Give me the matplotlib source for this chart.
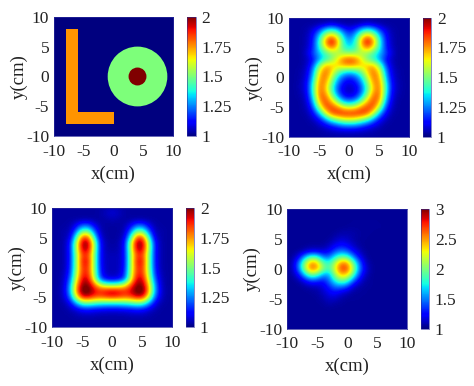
import matplotlib
matplotlib.use('Agg')
import matplotlib.pyplot as plt
import numpy as np
from matplotlib.patches import Circle, Polygon

plt.rcParams['font.family'] = ['Liberation Serif', 'DejaVu Serif']
plt.rcParams['axes.unicode_minus'] = False

W, H = 474, 386

# target panel: shapes and their relative permittivity
l_shape = [(-8, 8), (-6, 8), (-6, -6), (0, -6), (0, -8), (-8, -8)]
l_value = 1.75
outer_circle = (4, 0, 5)
outer_value = 1.5
inner_circle = (4, 0, 1.5)
inner_value = 2.0
background = 1.0

rings = [
    [1.03,1.03,1.03,1.03,1.03,1.03,1.03,1.03,1.03,1.03,1.03,1.03,1.03,1.03,1.03,1.03,1.03,1.03,1.03,1.03,1.03],
    [1.03,1.03,1.03,1.03,1.03,1.04,1.05,1.08,1.05,1.04,1.03,1.04,1.05,1.08,1.05,1.04,1.03,1.03,1.03,1.03,1.03],
    [1.03,1.03,1.03,1.04,1.09,1.18,1.33,1.40,1.33,1.18,1.12,1.18,1.33,1.40,1.33,1.18,1.09,1.04,1.03,1.03,1.03],
    [1.03,1.03,1.03,1.05,1.13,1.33,1.60,1.75,1.60,1.33,1.20,1.33,1.60,1.75,1.60,1.33,1.13,1.05,1.03,1.03,1.03],
    [1.03,1.03,1.03,1.05,1.15,1.40,1.75,1.95,1.75,1.40,1.28,1.40,1.75,1.95,1.75,1.40,1.15,1.05,1.03,1.03,1.03],
    [1.03,1.03,1.03,1.06,1.16,1.38,1.62,1.78,1.65,1.42,1.35,1.42,1.65,1.78,1.62,1.38,1.16,1.06,1.03,1.03,1.03],
    [1.03,1.03,1.03,1.08,1.20,1.30,1.42,1.50,1.55,1.55,1.55,1.55,1.55,1.50,1.42,1.30,1.20,1.08,1.03,1.03,1.03],
    [1.03,1.03,1.03,1.05,1.13,1.28,1.40,1.50,1.65,1.80,1.85,1.80,1.65,1.50,1.40,1.28,1.13,1.05,1.03,1.03,1.03],
    [1.03,1.03,1.03,1.07,1.20,1.50,1.72,1.70,1.68,1.72,1.75,1.72,1.68,1.70,1.72,1.50,1.20,1.07,1.03,1.03,1.03],
    [1.03,1.03,1.04,1.08,1.28,1.65,1.80,1.70,1.50,1.40,1.35,1.40,1.50,1.70,1.80,1.65,1.28,1.08,1.04,1.03,1.03],
    [1.03,1.03,1.04,1.10,1.33,1.72,1.80,1.60,1.35,1.20,1.15,1.20,1.35,1.60,1.80,1.72,1.33,1.10,1.04,1.03,1.03],
    [1.03,1.03,1.05,1.12,1.40,1.78,1.75,1.50,1.25,1.12,1.08,1.12,1.25,1.50,1.75,1.78,1.40,1.12,1.05,1.03,1.03],
    [1.03,1.03,1.05,1.12,1.42,1.80,1.72,1.45,1.20,1.08,1.05,1.08,1.20,1.45,1.72,1.80,1.42,1.12,1.05,1.03,1.03],
    [1.03,1.03,1.04,1.10,1.38,1.80,1.80,1.55,1.28,1.12,1.08,1.12,1.28,1.55,1.80,1.80,1.38,1.10,1.04,1.03,1.03],
    [1.03,1.03,1.03,1.08,1.30,1.72,1.85,1.72,1.50,1.30,1.25,1.30,1.50,1.72,1.85,1.72,1.30,1.08,1.03,1.03,1.03],
    [1.03,1.03,1.03,1.06,1.20,1.55,1.82,1.85,1.78,1.65,1.60,1.65,1.78,1.85,1.82,1.55,1.20,1.06,1.03,1.03,1.03],
    [1.03,1.03,1.03,1.04,1.12,1.30,1.60,1.82,1.88,1.88,1.88,1.88,1.88,1.82,1.60,1.30,1.12,1.04,1.03,1.03,1.03],
    [1.03,1.03,1.03,1.03,1.06,1.13,1.28,1.45,1.55,1.63,1.65,1.63,1.55,1.45,1.28,1.13,1.06,1.03,1.03,1.03,1.03],
    [1.03,1.03,1.03,1.03,1.03,1.06,1.10,1.16,1.22,1.27,1.28,1.27,1.22,1.16,1.10,1.06,1.03,1.03,1.03,1.03,1.03],
    [1.03,1.03,1.03,1.03,1.03,1.03,1.04,1.05,1.06,1.07,1.07,1.07,1.06,1.05,1.04,1.03,1.03,1.03,1.03,1.03,1.03],
    [1.03,1.03,1.03,1.03,1.03,1.03,1.03,1.03,1.03,1.03,1.03,1.03,1.03,1.03,1.03,1.03,1.03,1.03,1.03,1.03,1.03],
]

u_shape = [
    [1.03,1.03,1.03,1.03,1.03,1.03,1.03,1.03,1.03,1.04,1.05,1.04,1.03,1.03,1.03,1.03,1.03,1.03,1.03,1.03,1.03],
    [1.03,1.03,1.03,1.03,1.03,1.03,1.03,1.03,1.04,1.06,1.08,1.06,1.04,1.03,1.03,1.03,1.03,1.03,1.03,1.03,1.03],
    [1.03,1.03,1.03,1.03,1.03,1.03,1.03,1.03,1.03,1.04,1.05,1.04,1.03,1.03,1.03,1.03,1.03,1.03,1.03,1.03,1.03],
    [1.03,1.03,1.03,1.04,1.10,1.20,1.20,1.10,1.04,1.03,1.03,1.03,1.04,1.10,1.20,1.20,1.10,1.04,1.03,1.03,1.03],
    [1.03,1.03,1.04,1.05,1.22,1.46,1.46,1.22,1.05,1.03,1.03,1.03,1.05,1.22,1.46,1.46,1.22,1.05,1.04,1.03,1.03],
    [1.03,1.03,1.04,1.08,1.40,1.82,1.82,1.38,1.08,1.03,1.03,1.03,1.08,1.38,1.82,1.82,1.40,1.08,1.04,1.03,1.03],
    [1.03,1.03,1.04,1.14,1.55,1.98,1.98,1.55,1.12,1.04,1.03,1.04,1.12,1.55,1.98,1.98,1.55,1.14,1.04,1.03,1.03],
    [1.03,1.03,1.04,1.14,1.55,1.95,1.95,1.55,1.12,1.04,1.04,1.04,1.12,1.55,1.95,1.95,1.55,1.14,1.04,1.03,1.03],
    [1.03,1.03,1.04,1.14,1.52,1.85,1.85,1.52,1.12,1.05,1.05,1.05,1.12,1.52,1.85,1.85,1.52,1.14,1.04,1.03,1.03],
    [1.03,1.03,1.04,1.14,1.52,1.90,1.90,1.52,1.12,1.05,1.06,1.05,1.12,1.52,1.90,1.90,1.52,1.14,1.04,1.03,1.03],
    [1.03,1.03,1.04,1.15,1.52,1.87,1.87,1.52,1.13,1.05,1.05,1.05,1.13,1.52,1.87,1.87,1.52,1.15,1.04,1.03,1.03],
    [1.03,1.03,1.05,1.17,1.55,1.87,1.87,1.55,1.15,1.06,1.05,1.06,1.15,1.55,1.87,1.87,1.55,1.17,1.05,1.03,1.03],
    [1.03,1.03,1.06,1.22,1.60,1.93,1.93,1.58,1.20,1.10,1.08,1.10,1.20,1.58,1.93,1.93,1.60,1.22,1.06,1.03,1.03],
    [1.03,1.03,1.07,1.28,1.70,2.00,2.00,1.82,1.62,1.52,1.50,1.52,1.62,1.82,2.00,2.00,1.70,1.28,1.07,1.03,1.03],
    [1.03,1.03,1.08,1.30,1.75,2.05,2.05,1.93,1.88,1.93,1.96,1.93,1.88,1.93,2.05,2.05,1.75,1.30,1.08,1.03,1.03],
    [1.03,1.03,1.07,1.23,1.60,1.90,1.92,1.84,1.82,1.86,1.88,1.86,1.82,1.84,1.92,1.90,1.60,1.23,1.07,1.03,1.03],
    [1.03,1.03,1.04,1.11,1.30,1.46,1.48,1.44,1.42,1.40,1.40,1.40,1.42,1.44,1.48,1.46,1.30,1.11,1.04,1.03,1.03],
    [1.03,1.03,1.03,1.05,1.09,1.14,1.15,1.13,1.12,1.11,1.11,1.11,1.12,1.13,1.15,1.14,1.09,1.05,1.03,1.03,1.03],
    [1.03,1.03,1.03,1.03,1.04,1.05,1.05,1.05,1.04,1.04,1.04,1.04,1.04,1.05,1.05,1.05,1.04,1.03,1.03,1.03,1.03],
    [1.03,1.03,1.03,1.03,1.03,1.03,1.03,1.03,1.03,1.03,1.03,1.03,1.03,1.03,1.03,1.03,1.03,1.03,1.03,1.03,1.03],
    [1.03,1.03,1.03,1.03,1.03,1.03,1.03,1.03,1.03,1.03,1.03,1.03,1.03,1.03,1.03,1.03,1.03,1.03,1.03,1.03,1.03],
]

two_blobs = [
    [1.04,1.04,1.04,1.04,1.04,1.04,1.04,1.04,1.04,1.04,1.04,1.04,1.04,1.04,1.04,1.04,1.04,1.04,1.04,1.04,1.04],
    [1.04,1.04,1.04,1.04,1.04,1.04,1.04,1.04,1.04,1.04,1.04,1.04,1.04,1.04,1.04,1.04,1.04,1.04,1.04,1.04,1.04],
    [1.04,1.04,1.04,1.04,1.04,1.04,1.04,1.04,1.04,1.04,1.04,1.05,1.05,1.05,1.05,1.05,1.04,1.04,1.04,1.04,1.04],
    [1.04,1.04,1.04,1.04,1.04,1.04,1.04,1.04,1.04,1.04,1.05,1.05,1.05,1.05,1.05,1.05,1.05,1.04,1.04,1.04,1.04],
    [1.04,1.04,1.04,1.04,1.04,1.04,1.04,1.04,1.05,1.08,1.08,1.08,1.06,1.05,1.05,1.04,1.04,1.04,1.04,1.04,1.04],
    [1.04,1.04,1.04,1.04,1.04,1.04,1.04,1.05,1.10,1.14,1.12,1.08,1.05,1.05,1.04,1.04,1.04,1.04,1.04,1.04,1.04],
    [1.04,1.04,1.04,1.04,1.05,1.05,1.05,1.10,1.20,1.26,1.22,1.12,1.06,1.04,1.04,1.04,1.04,1.04,1.04,1.04,1.04],
    [1.04,1.04,1.05,1.10,1.16,1.16,1.14,1.22,1.38,1.48,1.42,1.24,1.12,1.05,1.04,1.04,1.04,1.04,1.04,1.04,1.04],
    [1.04,1.06,1.22,1.60,1.90,1.85,1.50,1.45,1.75,1.95,1.90,1.55,1.25,1.08,1.04,1.04,1.04,1.04,1.04,1.04,1.04],
    [1.04,1.12,1.50,2.10,2.55,2.45,1.95,1.80,2.15,2.55,2.55,2.00,1.50,1.14,1.05,1.04,1.04,1.04,1.04,1.04,1.04],
    [1.04,1.12,1.50,2.10,2.60,2.50,2.05,1.85,2.25,2.70,2.70,2.15,1.55,1.20,1.06,1.04,1.04,1.04,1.04,1.04,1.04],
    [1.04,1.07,1.25,1.65,1.95,1.85,1.55,1.55,2.05,2.40,2.35,1.90,1.40,1.12,1.05,1.04,1.04,1.04,1.04,1.04,1.04],
    [1.04,1.04,1.07,1.20,1.35,1.32,1.26,1.45,1.75,1.95,1.85,1.45,1.18,1.07,1.05,1.04,1.04,1.04,1.04,1.04,1.04],
    [1.04,1.04,1.04,1.06,1.08,1.10,1.16,1.30,1.45,1.45,1.35,1.14,1.07,1.05,1.05,1.04,1.04,1.04,1.04,1.04,1.04],
    [1.04,1.04,1.04,1.04,1.05,1.06,1.12,1.20,1.24,1.16,1.10,1.05,1.05,1.05,1.04,1.04,1.04,1.04,1.04,1.04,1.04],
    [1.04,1.04,1.04,1.04,1.04,1.05,1.07,1.13,1.12,1.07,1.05,1.05,1.05,1.04,1.04,1.04,1.04,1.04,1.04,1.04,1.04],
    [1.04,1.04,1.04,1.04,1.04,1.04,1.05,1.07,1.05,1.05,1.04,1.04,1.04,1.04,1.04,1.04,1.04,1.04,1.04,1.04,1.04],
    [1.04,1.04,1.04,1.04,1.04,1.04,1.04,1.04,1.04,1.04,1.04,1.04,1.04,1.04,1.04,1.04,1.04,1.04,1.04,1.04,1.04],
    [1.04,1.04,1.04,1.04,1.04,1.04,1.04,1.04,1.04,1.04,1.04,1.04,1.04,1.04,1.04,1.04,1.04,1.04,1.04,1.04,1.04],
    [1.04,1.04,1.04,1.04,1.04,1.04,1.04,1.04,1.04,1.04,1.04,1.04,1.04,1.04,1.04,1.04,1.04,1.04,1.04,1.04,1.04],
    [1.04,1.04,1.04,1.04,1.04,1.04,1.04,1.04,1.04,1.04,1.04,1.04,1.04,1.04,1.04,1.04,1.04,1.04,1.04,1.04,1.04],
]

axis_ticks = [-10, -5, 0, 5, 10]
cbar_ticks = [1, 1.25, 1.5, 1.75, 2]
cbar_labels = ['1', '1.25', '1.5', '1.75', '2']
cbar_ticks_wide = [1, 1.5, 2, 2.5, 3]
cbar_labels_wide = ['1', '1.5', '2', '2.5', '3']


def axes_px(fig, left, right, top, bottom):
    """Axes from pixel edges, measured from the top left of the picture."""
    return fig.add_axes([left / W, 1 - bottom / H, (right - left) / W, (bottom - top) / H])


def panel(fig, data, box, cbar_x, vmax, ticks, labels, interp='bicubic'):
    left, right, top, bottom = box
    ax = axes_px(fig, left, right, top, bottom)
    im = ax.imshow(np.array(data), cmap='jet', vmin=1, vmax=vmax, extent=(-10.5, 10.5, -10.5, 10.5),
                   interpolation=interp, aspect='auto')
    ax.set_xlim(-10, 10)
    ax.set_ylim(-10, 10)
    ax.set_xticks(axis_ticks)
    ax.set_yticks(axis_ticks)
    ax.tick_params(length=0, labelsize=12.5, colors='#222222')
    ax.tick_params('x', pad=5.5)
    ax.tick_params('y', pad=3.5)
    ax.set_xlabel('x(cm)', fontsize=13.5, labelpad=4, color='#222222')
    ax.set_ylabel('y(cm)', fontsize=13.5, labelpad=-1, color='#222222')
    for spine in ax.spines.values():
        spine.set_color('#2a2a9a')
        spine.set_linewidth(0.5)

    cax = axes_px(fig, cbar_x, cbar_x + 8.6, top, bottom)
    cb = fig.colorbar(im, cax=cax, ticks=ticks)
    cb.ax.set_yticklabels(labels)
    cb.ax.tick_params(length=0, labelsize=12.5, pad=4, colors='#222222')
    cb.outline.set_linewidth(0.4)
    cb.outline.set_edgecolor('#2a2a9a')
    return ax, im


fig = plt.figure(figsize=(W / 100, H / 100), dpi=100)

ax, im = panel(fig, [[background]], (54, 173.3, 16.7, 136.3), 187.3, 2, cbar_ticks, cbar_labels,
               interp='nearest')
ax.add_patch(Polygon(l_shape, facecolor=im.cmap(im.norm(l_value)), edgecolor='none'))
ax.add_patch(Circle(outer_circle[:2], outer_circle[2], facecolor=im.cmap(im.norm(outer_value)), edgecolor='none'))
ax.add_patch(Circle(inner_circle[:2], inner_circle[2], facecolor=im.cmap(im.norm(inner_value)), edgecolor='none'))

panel(fig, rings, (289, 409.3, 17.7, 136.7), 422.7, 2, cbar_ticks, cbar_labels)
panel(fig, u_shape, (52, 172.3, 207.7, 327.3), 185.7, 2, cbar_ticks, cbar_labels)
panel(fig, two_blobs, (287.3, 407.3, 208.7, 328.7), 420.7, 3, cbar_ticks_wide, cbar_labels_wide)

plt.savefig('out.png', dpi=100)
